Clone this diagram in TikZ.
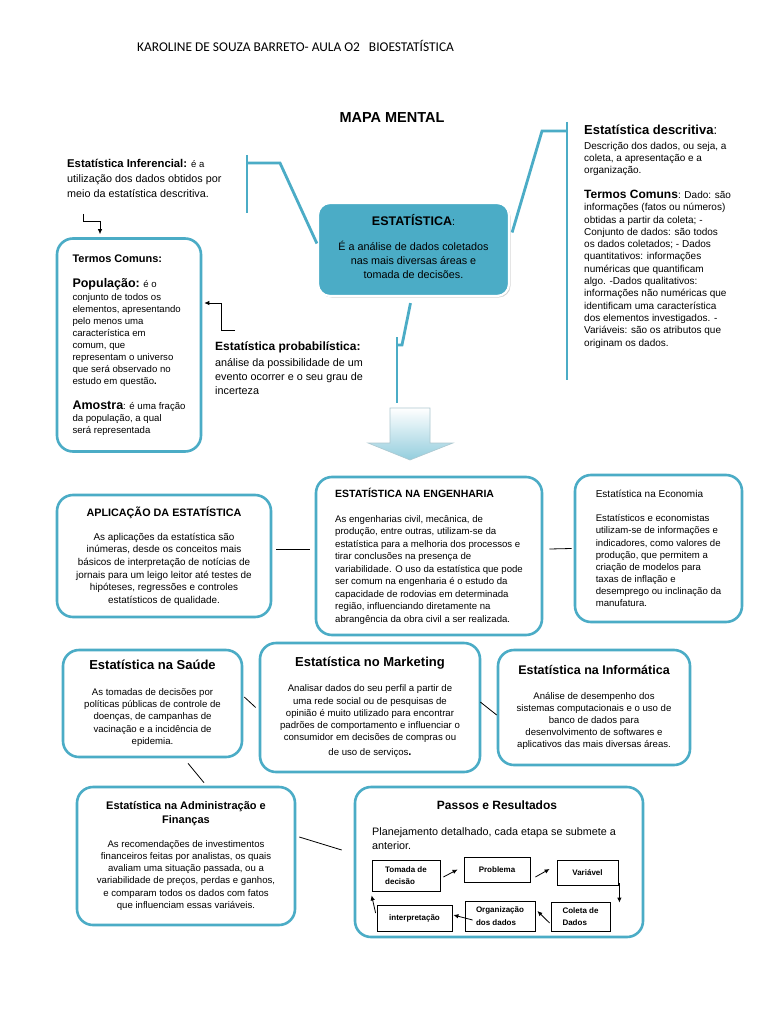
\documentclass[tikz,border=0pt]{standalone}
\usepackage{fontspec}
\setmainfont{Liberation Sans}
\newfontfamily\headfont{Carlito}
\usetikzlibrary{arrows.meta,shadows}

\definecolor{mapblue}{HTML}{4BACC6}
\definecolor{arrowblue}{HTML}{93CDDD}
\newcommand{\fsz}[2]{\fontsize{#1}{#2}\selectfont}

\begin{document}
\begin{tikzpicture}[x=1pt, y=-1pt,
  mapbox/.style={draw=mapblue, line width=2.6pt, rounded corners=16pt, fill=white, align=center, inner sep=0pt},
  centro/.style={draw=white, line width=2.2pt, rounded corners=12pt, fill=mapblue, align=center, inner sep=0pt,
    drop shadow={opacity=0.35, shadow xshift=1.5pt, shadow yshift=-1.5pt}},
  bracket/.style={draw=mapblue, line width=2.8pt},
  link/.style={draw=black, line width=0.8pt},
  elbow/.style={-{Latex[length=5pt,width=4.5pt]}, line width=0.8pt},
  stepbox/.style={draw, line width=0.8pt, font=\bfseries\fsz{8}{12.5}, align=left, inner sep=0pt},
  steparrow/.style={-{Latex[length=5pt,width=4.5pt]}, line width=0.8pt},
  note/.style={align=left, inner sep=0pt}
]
\useasboundingbox (0,0) rectangle (768,1024);
\fill[white] (0,0) rectangle (768,1024);

% header and title
\node[anchor=base west, inner sep=0pt, font=\headfont\fsz{13.4}{15}] (autor) at (137,52) {KAROLINE DE SOUZA BARRETO- AULA O2\hspace{9pt}BIOESTATÍSTICA};
\node[font=\bfseries\fsz{14.5}{16}] (titulo) at (392,118) {MAPA MENTAL};

% central node
\node[centro, minimum width=191pt, minimum height=93pt, font=\fsz{10.8}{14}] (est) at (413.5,249.5)
  {{\bfseries\fsz{12.5}{14}ESTATÍSTICA}:\\[11pt] É a análise de dados coletados\\ nas mais diversas áreas e\\ tomada de decisões.\rule[-6pt]{0pt}{6pt}};

% brackets from the central node
\coordinate (infTop) at (247,155);
\coordinate (infBot) at (247,213);
\coordinate (infKnee) at (280,163);
\draw[bracket] (infTop) -- (infBot);
\draw[bracket] (infTop |- infKnee) -- (infKnee) -- ([yshift=6pt]est.west);

\coordinate (desTop) at (567,122);
\coordinate (desBot) at (567,380);
\coordinate (desKnee) at (542,131);
\draw[bracket] (desTop) -- (desBot);
\draw[bracket] (desTop |- desKnee) -- (desKnee) -- ([shift={(2pt,17pt)}]est.east);

\coordinate (apTop) at (397,337);
\coordinate (apBot) at (397,403);
\coordinate (apKnee) at (402,345);
\draw[bracket] (apTop) -- (apBot);
\draw[bracket] (apTop |- apKnee) -- (apKnee) -- ([shift={(-3pt,-6pt)}]est.south);

% block arrow
\draw[draw=arrowblue!80!black!60, line width=0.6pt, top color=white, bottom color=arrowblue]
  (390,408) -- (430,408) -- (430,443) -- (453,443) -- (410,460) -- (368,443) -- (390,443) -- cycle;

% side notes
\node[note, anchor=north west, font=\fsz{10.8}{15}] (inferencial) at (67,159)
  {{\bfseries\fsz{11.3}{15}Estatística Inferencial:} {\fsz{9.5}{15}é a}\\ utilização dos dados obtidos por\\ meio da estatística descritiva.};

\node[note, anchor=north west, font=\fsz{10.8}{14}] (probabilistica) at (215,341)
  {{\bfseries\fsz{12}{14}Estatística probabilística:}\\[2pt] análise da possibilidade de um\\ evento ocorrer e o seu grau de\\ incerteza};

\node[note, anchor=north west, font=\fsz{10}{12.3}] (descritiva) at (584,125)
  {{\fsz{13}{14}{\bfseries Estatística descritiva}:}\\[2pt] Descrição dos dados, ou seja, a\\ coleta, a apresentação e a\\ organização.\\[12.5pt]
   {\bfseries\fsz{12}{13}Termos Comuns}: Dado: são\\ informações (fatos ou números)\\ obtidas a partir da coleta; -\\ Conjunto de dados: são todos\\
   os dados coletados; - Dados\\ quantitativos: informações\\ numéricas que quantificam\\ algo. -Dados qualitativos:\\
   informações não numéricas que\\ identificam uma característica\\ dos elementos investigados. -\\ Variáveis: são os atributos que\\ originam os dados.};

% termos comuns box
\node[mapbox, align=left, minimum width=144pt, minimum height=213pt, font=\fsz{9.6}{12}] (termos) at (129,345)
  {{\bfseries\fsz{11}{12}Termos Comuns:}\\[13pt]
   {\bfseries\fsz{12.5}{13}População:} é o\\[1pt] conjunto de todos os\\ elementos, apresentando\\ pelo menos uma\\ característica em\\
   comum, que\\ representam o universo\\ que será observado no\\ estudo em questão{\bfseries.}\\[13pt]
   {\bfseries\fsz{12.5}{12}Amostra}: é uma fração\\ da população, a qual\\ será representada};

\coordinate (infA) at (83,214);
\draw[elbow] (infA) |- ([xshift=-29pt,yshift=16pt]termos.north) -- ([xshift=-29pt,yshift=3pt]termos.north);
\coordinate (probA) at (235,330);
\draw[elbow] (probA) -| ([shift={(19pt,42pt)}]termos.east) -- ([shift={(2pt,42pt)}]termos.east);

% second row
\node[mapbox, minimum width=214pt, minimum height=122pt, font=\fsz{9.9}{12.6}] (aplic) at (164,556)
  {{\bfseries\fsz{10.8}{12}APLICAÇÃO DA ESTATÍSTICA}\\[11.4pt] As aplicações da estatística são\\ inúmeras, desde os conceitos mais\\
   básicos de interpretação de notícias de\\ jornais para um leigo leitor até testes de\\ hipóteses, regressões e controles\\ estatísticos de qualidade.};

\node[mapbox, align=left, minimum width=226pt, minimum height=158pt, font=\fsz{9.6}{12.5}] (eng) at (429,556)
  {{\bfseries\fsz{10.5}{12}ESTATÍSTICA NA ENGENHARIA}\\[12.5pt] As engenharias civil, mecânica, de\\ produção, entre outras, utilizam-se da\\
   estatística para a melhoria dos processos e\\ tirar conclusões na presença de\\ variabilidade. O uso da estatística que pode\\
   ser comum na engenharia é o estudo da\\ capacidade de rodovias em determinada\\ região, influenciando diretamente na\\ abrangência da obra civil a ser realizada.};

\node[mapbox, align=left, minimum width=167pt, minimum height=147pt, font=\fsz{9.6}{12.1}] (eco) at (658.5,548.5)
  {{\fsz{10}{12}Estatística na Economia}\\[12pt] Estatísticos e economistas\\ utilizam-se de informações e\\ indicadores, como valores de\\
   produção, que permitem a\\ criação de modelos para\\ taxas de inflação e\\ desemprego ou inclinação da\\ manufatura.};

\draw[link] ([shift={(4pt,7pt)}]aplic.east) -- ([shift={(-5pt,7pt)}]eng.west);
\draw[link] ([shift={(6pt,7pt)}]eng.east) -- ([xshift=-2pt]eco.west);

% third row
\node[mapbox, minimum width=179pt, minimum height=107pt, font=\fsz{9.6}{12.4}] (sau) at (152.5,703.5)
  {{\bfseries\fsz{13}{14}Estatística na Saúde}\\[13pt] As tomadas de decisões por\\ políticas públicas de controle de\\
   doenças, de campanhas de\\ vacinação e a incidência de\\ epidemia.};

\node[mapbox, minimum width=220pt, minimum height=129pt, font=\fsz{9.6}{12.2}] (mkt) at (370,707.5)
  {{\bfseries\fsz{13}{14}Estatística no Marketing}\\[13pt] Analisar dados do seu perfil a partir de\\ uma rede social ou de pesquisas de\\
   opinião é muito utilizado para encontrar\\ padrões de comportamento e influenciar o\\ consumidor em decisões de compras ou\\[3pt] de uso de serviços{\bfseries\fsz{11}{12}.}};

\node[mapbox, minimum width=192pt, minimum height=115pt, font=\fsz{9.6}{12}] (inf) at (594,707.5)
  {{\bfseries\fsz{12.5}{14}Estatística na Informática}\\[13pt] Análise de desempenho dos\\ sistemas computacionais e o uso de\\
   banco de dados para\\ desenvolvimento de softwares e\\ aplicativos das mais diversas áreas.};

\draw[link] ([shift={(1pt,6.5pt)}]sau.east) -- ([xshift=-3pt]mkt.west);
\draw[link] ([shift={(-1pt,5.5pt)}]mkt.east) -- ([yshift=-7.5pt]inf.west);

% fourth row
\node[mapbox, minimum width=218pt, minimum height=138pt, font=\fsz{9.6}{12.2}] (adm) at (186,856)
  {{\bfseries\fsz{11}{13}Estatística na Administração e}\\[1pt] {\bfseries\fsz{11}{13}Finanças}\\[12pt]
   As recomendações de investimentos\\ financeiros feitas por analistas, os quais\\ avaliam uma situação passada, ou a\\
   variabilidade de preços, perdas e ganhos,\\ e comparam todos os dados com fatos\\ que influenciam essas variáveis.};

\node[mapbox, minimum width=288pt, minimum height=150pt] (pas) at (499,862) {};
\node[font=\bfseries\fsz{12}{14}] (pasTitulo) at (497,805) {Passos e Resultados};
\node[note, anchor=north west, font=\fsz{10.8}{14}] (pasTexto) at (372,827)
  {Planejamento detalhado, cada etapa se submete a\\ anterior.};

\draw[link] ([shift={(35.5pt,-5pt)}]sau.south) -- ([shift={(18pt,3pt)}]adm.north);
\draw[link] ([shift={(3pt,19pt)}]adm.east) -- ([shift={(-12pt,12pt)}]pas.west);

% steps
\node[stepbox, minimum width=68pt, minimum height=31pt] (tomada) at (406,875.5) {Tomada de\\ decisão};
\node[stepbox, minimum width=66pt, minimum height=25pt] (problema) at (497,869.5) {Problema};
\node[stepbox, minimum width=61pt, minimum height=25pt] (variavel) at (587.5,872.5) {Variável};
\node[stepbox, minimum width=59pt, minimum height=29pt] (coleta) at (580.5,916.5) {Coleta de\\ Dados};
\node[stepbox, minimum width=70pt, minimum height=30pt] (organiz) at (500,916) {Organização\\ dos dados};
\node[stepbox, minimum width=75pt, minimum height=26pt] (interp) at (414.5,918) {interpretação};

\draw[steparrow] ([shift={(3pt,-1.5pt)}]tomada.east) -- ([xshift=-6pt]problema.west);
\draw[steparrow] ([shift={(5pt,-7.5pt)}]problema.east) -- ([shift={(-7pt,3.5pt)}]variavel.west);
\draw[steparrow] ([shift={(1pt,2pt)}]variavel.south east) -- ([shift={(9pt,-1pt)}]coleta.north east);
\draw[steparrow] ([shift={(-1pt,-6.5pt)}]coleta.west) -- ([shift={(2pt,5pt)}]organiz.east);
\draw[steparrow] ([shift={(8pt,-4pt)}]organiz.west) -- ([shift={(1pt,3pt)}]interp.east);
\draw[steparrow] ([shift={(-1pt,5pt)}]interp.west) -- ([yshift=-4pt]tomada.south west);

\end{tikzpicture}
\end{document}
